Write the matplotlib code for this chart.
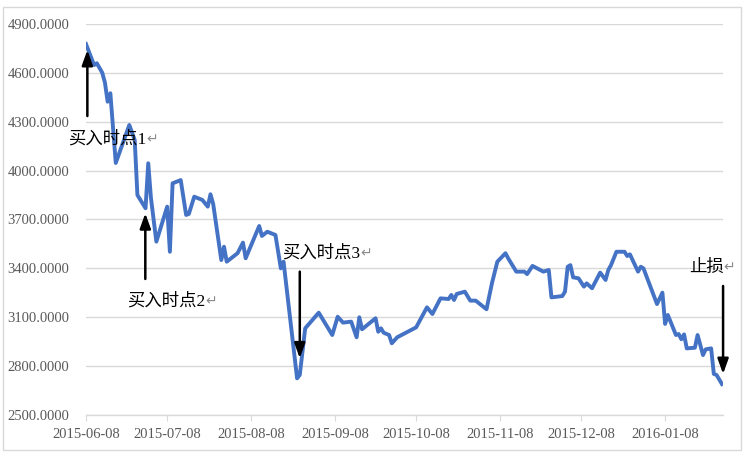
import matplotlib
matplotlib.use("Agg")
import matplotlib.pyplot as plt
import matplotlib.dates as mdates
from matplotlib.patches import Rectangle
import pandas as pd
import numpy as np

dates = [
    "2015-06-08", "2015-06-10", "2015-06-11", "2015-06-12", "2015-06-14", "2015-06-15",
    "2015-06-16", "2015-06-17", "2015-06-19", "2015-06-24", "2015-06-26", "2015-06-27",
    "2015-06-30", "2015-07-01", "2015-07-02", "2015-07-04", "2015-07-08", "2015-07-09",
    "2015-07-10", "2015-07-13", "2015-07-15", "2015-07-16", "2015-07-18", "2015-07-21",
    "2015-07-23", "2015-07-24", "2015-07-25", "2015-07-28", "2015-07-29", "2015-07-30",
    "2015-08-03", "2015-08-05", "2015-08-06", "2015-08-11", "2015-08-12", "2015-08-14",
    "2015-08-17", "2015-08-19", "2015-08-20", "2015-08-25", "2015-08-26", "2015-08-28",
    "2015-09-02", "2015-09-07", "2015-09-09", "2015-09-11", "2015-09-14", "2015-09-16",
    "2015-09-17", "2015-09-18", "2015-09-23", "2015-09-24", "2015-09-25", "2015-09-26",
    "2015-09-28", "2015-09-29", "2015-10-01", "2015-10-08", "2015-10-12", "2015-10-14",
    "2015-10-17", "2015-10-20", "2015-10-21", "2015-10-22", "2015-10-23", "2015-10-26",
    "2015-10-28", "2015-10-30", "2015-11-03", "2015-11-05", "2015-11-07", "2015-11-10",
    "2015-11-11", "2015-11-14", "2015-11-17", "2015-11-18", "2015-11-20", "2015-11-24",
    "2015-11-26", "2015-11-27", "2015-12-01", "2015-12-02", "2015-12-03", "2015-12-04",
    "2015-12-05", "2015-12-07", "2015-12-09", "2015-12-10", "2015-12-12", "2015-12-15",
    "2015-12-17", "2015-12-18", "2015-12-19", "2015-12-21", "2015-12-24", "2015-12-25",
    "2015-12-26", "2015-12-29", "2015-12-30", "2015-12-31", "2016-01-05", "2016-01-07",
    "2016-01-08", "2016-01-09", "2016-01-12", "2016-01-13", "2016-01-14", "2016-01-15",
    "2016-01-16", "2016-01-19", "2016-01-20", "2016-01-22", "2016-01-23", "2016-01-25",
    "2016-01-26", "2016-01-27", "2016-01-29",
]
values = [
    4777, 4690, 4648, 4659, 4601, 4540,
    4423, 4475, 4047, 4280, 4188, 3850,
    3769, 4045, 3832, 3564, 3779, 3502,
    3922, 3942, 3728, 3734, 3840, 3820,
    3779, 3855, 3795, 3451, 3533, 3441,
    3493, 3558, 3462, 3660, 3599, 3625,
    3605, 3400, 3441, 2725, 2746, 3032,
    3128, 2991, 3103, 3067, 3073, 2977,
    3100, 3026, 3094, 3011, 3032, 3005,
    2991, 2940, 2977, 3038, 3161, 3120,
    3216, 3212, 3237, 3206, 3243, 3257,
    3202, 3202, 3149, 3308, 3441, 3493,
    3462, 3380, 3380, 3365, 3415, 3380,
    3390, 3222, 3230, 3257, 3410, 3420,
    3345, 3339, 3288, 3308, 3278, 3374,
    3329, 3390, 3420, 3502, 3502, 3476,
    3486, 3380, 3410, 3400, 3181, 3251,
    3059, 3114, 2991, 2997, 2965, 2995,
    2909, 2913, 2991, 2868, 2903, 2909,
    2752, 2746, 2690,
]

y_ticks = [2500, 2800, 3100, 3400, 3700, 4000, 4300, 4600, 4900]
x_ticks = ["2015-06-08", "2015-07-08", "2015-08-08", "2015-09-08", "2015-10-08",
           "2015-11-08", "2015-12-08", "2016-01-08"]

# label, text x, text y, arrow x, arrow tail y, arrow tip y
notes = [
    ("买入时点1", "2015-06-01 12:00", 4194, "2015-06-08 12:00", 4335, 4740),
    ("买入时点2", "2015-06-23 05:00", 3195, "2015-06-29 22:00", 3335, 3738),
    ("买入时点3", "2015-08-19 10:00", 3494, "2015-08-26", 3380, 2848),
    ("止损", "2016-01-16 19:00", 3404, "2016-01-29 10:00", 3292, 2752),
]

x = pd.to_datetime(dates)

fig = plt.figure(figsize=(7.51, 4.61), dpi=100)
fig.patches.append(Rectangle((3 / 751, 1 - 450 / 461), 738 / 751, 443 / 461,
                             transform=fig.transFigure, fill=False,
                             edgecolor="#D9D9D9", lw=1))
ax = fig.add_axes([86 / 751, 1 - 415 / 461, 637.3 / 751, 391 / 461])

ax.plot(x, values, color="#4472C4", lw=2.8, solid_joinstyle="round")

ax.set_ylim(2500, 4900)
ax.set_yticks(y_ticks)
ax.yaxis.set_major_formatter(matplotlib.ticker.FuncFormatter(lambda v, p: "%.4f" % v))
ax.set_xlim(pd.Timestamp("2015-06-08"), pd.Timestamp("2016-01-29 12:00"))
ax.set_xticks(pd.to_datetime(x_ticks))
ax.xaxis.set_major_formatter(mdates.DateFormatter("%Y-%m-%d"))

ax.grid(axis="y", color="#D9D9D9", lw=1)
ax.set_axisbelow(True)
for s in ["top", "right", "left"]:
    ax.spines[s].set_visible(False)
ax.spines["bottom"].set_color("#D9D9D9")
ax.spines["bottom"].set_linewidth(1)
ax.tick_params(axis="y", length=0, pad=12)
ax.tick_params(axis="x", length=4, color="#D9D9D9", pad=5)
for lab in ax.get_xticklabels() + ax.get_yticklabels():
    lab.set_fontfamily("Liberation Serif")
    lab.set_fontsize(10.5)
    lab.set_color("#595959")

cjk = ["Liberation Serif", "Noto Sans CJK SC", "DejaVu Sans"]
for label, tx, ty, axx, tail, tip in notes:
    t = ax.text(pd.Timestamp(tx), ty, label, family=cjk, fontsize=12.5,
                va="center", ha="left", color="black", clip_on=False)
    ax.annotate("↵", xy=(1, 0.5), xycoords=t, va="center", ha="left",
                family=["DejaVu Sans"], fontsize=10, color="#8C8C8C")
    ax.annotate("", xy=(pd.Timestamp(axx), tip), xytext=(pd.Timestamp(axx), tail),
                annotation_clip=False,
                arrowprops=dict(arrowstyle="-|>,head_length=0.5,head_width=0.18",
                                color="black", lw=1.8, mutation_scale=18,
                                shrinkA=0, shrinkB=0))

fig.savefig("out.png", dpi=100)
